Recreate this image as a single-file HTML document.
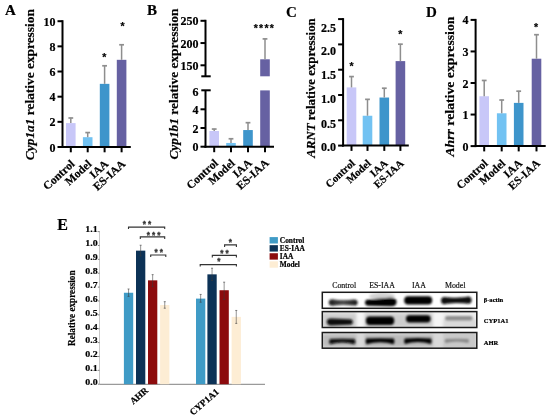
<!DOCTYPE html><html><head><meta charset="utf-8"><style>html,body{margin:0;padding:0;background:#fff;}svg{display:block;}text{font-family:'Liberation Serif','Times New Roman',serif;font-weight:bold;stroke:#000;stroke-width:0.2px}</style></head><body>
<svg width="550" height="416" viewBox="0 0 550 416">
<rect width="550" height="416" fill="#fff"/>
<text x="5.00" y="15.40" font-size="15" text-anchor="start"  style="">A</text>
<rect x="66.00" y="123.10" width="9.60" height="23.90" fill="#c8c7f8"/>
<line x1="70.80" y1="117.69" x2="70.80" y2="123.10" stroke="#8e8e8e" stroke-width="1.5"/>
<line x1="68.40" y1="117.99" x2="73.20" y2="117.99" stroke="#8e8e8e" stroke-width="1.7"/>
<rect x="82.90" y="137.19" width="9.60" height="9.81" fill="#72c2f2"/>
<line x1="87.70" y1="132.28" x2="87.70" y2="137.19" stroke="#8e8e8e" stroke-width="1.5"/>
<line x1="85.30" y1="132.58" x2="90.10" y2="132.58" stroke="#8e8e8e" stroke-width="1.7"/>
<rect x="99.80" y="83.85" width="9.60" height="63.15" fill="#3e95cb"/>
<line x1="104.60" y1="65.48" x2="104.60" y2="83.85" stroke="#8e8e8e" stroke-width="1.5"/>
<line x1="102.20" y1="65.78" x2="107.00" y2="65.78" stroke="#8e8e8e" stroke-width="1.7"/>
<rect x="116.80" y="59.82" width="9.60" height="87.18" fill="#6661a2"/>
<line x1="121.60" y1="44.47" x2="121.60" y2="59.82" stroke="#8e8e8e" stroke-width="1.5"/>
<line x1="119.20" y1="44.77" x2="124.00" y2="44.77" stroke="#8e8e8e" stroke-width="1.7"/>
<line x1="62.50" y1="20.20" x2="62.50" y2="148.00" stroke="#000" stroke-width="2"/>
<line x1="57.50" y1="147.00" x2="62.50" y2="147.00" stroke="#000" stroke-width="2"/>
<line x1="57.50" y1="121.84" x2="62.50" y2="121.84" stroke="#000" stroke-width="2"/>
<line x1="57.50" y1="96.68" x2="62.50" y2="96.68" stroke="#000" stroke-width="2"/>
<line x1="57.50" y1="71.52" x2="62.50" y2="71.52" stroke="#000" stroke-width="2"/>
<line x1="57.50" y1="46.36" x2="62.50" y2="46.36" stroke="#000" stroke-width="2"/>
<line x1="57.50" y1="21.20" x2="62.50" y2="21.20" stroke="#000" stroke-width="2"/>
<text x="55.50" y="151.50" font-size="12" text-anchor="end"  style="">0</text>
<text x="55.50" y="126.34" font-size="12" text-anchor="end"  style="">2</text>
<text x="55.50" y="101.18" font-size="12" text-anchor="end"  style="">4</text>
<text x="55.50" y="76.02" font-size="12" text-anchor="end"  style="">6</text>
<text x="55.50" y="50.86" font-size="12" text-anchor="end"  style="">8</text>
<text x="55.50" y="25.70" font-size="12" text-anchor="end"  style="">10</text>
<line x1="61.50" y1="147.00" x2="130.80" y2="147.00" stroke="#000" stroke-width="2"/>
<line x1="70.80" y1="147.00" x2="70.80" y2="152.30" stroke="#000" stroke-width="2"/>
<line x1="87.70" y1="147.00" x2="87.70" y2="152.30" stroke="#000" stroke-width="2"/>
<line x1="104.60" y1="147.00" x2="104.60" y2="152.30" stroke="#000" stroke-width="2"/>
<line x1="121.60" y1="147.00" x2="121.60" y2="152.30" stroke="#000" stroke-width="2"/>
<text x="104.20" y="60.80" font-size="10.5" text-anchor="middle"  style="font-family:'Liberation Sans',sans-serif;font-weight:bold">*</text>
<text x="122.50" y="29.50" font-size="10.5" text-anchor="middle"  style="font-family:'Liberation Sans',sans-serif;font-weight:bold">*</text>
<text x="0" y="0" font-size="13.3" text-anchor="middle" textLength="151" lengthAdjust="spacingAndGlyphs" transform="translate(34.30,84.65) rotate(-90)"><tspan font-style="italic">Cyp1a1</tspan> relative expression</text>
<text x="0" y="0" font-size="11.5" text-anchor="end" transform="translate(75.40,164.80) rotate(-42.5)">Control</text>
<text x="0" y="0" font-size="11.5" text-anchor="end" transform="translate(92.30,164.80) rotate(-42.5)">Model</text>
<text x="0" y="0" font-size="11.5" text-anchor="end" transform="translate(109.20,164.80) rotate(-42.5)">IAA</text>
<text x="0" y="0" font-size="11.5" text-anchor="end" transform="translate(126.20,164.80) rotate(-42.5)">ES-IAA</text>
<text x="147.00" y="15.20" font-size="15" text-anchor="start"  style="">B</text>
<rect x="209.40" y="130.99" width="9.60" height="15.71" fill="#c8c7f8"/>
<line x1="214.20" y1="128.75" x2="214.20" y2="130.99" stroke="#8e8e8e" stroke-width="1.5"/>
<line x1="211.80" y1="129.05" x2="216.60" y2="129.05" stroke="#8e8e8e" stroke-width="1.7"/>
<rect x="226.20" y="142.96" width="9.60" height="3.74" fill="#72c2f2"/>
<line x1="231.00" y1="138.47" x2="231.00" y2="142.96" stroke="#8e8e8e" stroke-width="1.5"/>
<line x1="228.60" y1="138.77" x2="233.40" y2="138.77" stroke="#8e8e8e" stroke-width="1.7"/>
<rect x="243.20" y="130.06" width="9.60" height="16.64" fill="#3e95cb"/>
<line x1="248.00" y1="122.39" x2="248.00" y2="130.06" stroke="#8e8e8e" stroke-width="1.5"/>
<line x1="245.60" y1="122.69" x2="250.40" y2="122.69" stroke="#8e8e8e" stroke-width="1.7"/>
<rect x="260.20" y="90.40" width="9.60" height="56.30" fill="#6661a2"/>
<rect x="260.20" y="59.29" width="9.60" height="17.01" fill="#6661a2"/>
<line x1="265.00" y1="38.60" x2="265.00" y2="59.29" stroke="#8e8e8e" stroke-width="1.5"/>
<line x1="262.60" y1="38.90" x2="267.40" y2="38.90" stroke="#8e8e8e" stroke-width="1.7"/>
<line x1="205.50" y1="19.80" x2="205.50" y2="76.30" stroke="#000" stroke-width="2"/>
<line x1="205.50" y1="90.30" x2="205.50" y2="147.70" stroke="#000" stroke-width="2"/>
<line x1="200.50" y1="20.80" x2="205.50" y2="20.80" stroke="#000" stroke-width="2"/>
<line x1="200.50" y1="43.05" x2="205.50" y2="43.05" stroke="#000" stroke-width="2"/>
<line x1="200.50" y1="65.30" x2="205.50" y2="65.30" stroke="#000" stroke-width="2"/>
<line x1="201.30" y1="76.30" x2="210.70" y2="76.30" stroke="#000" stroke-width="2"/>
<line x1="201.30" y1="90.30" x2="210.70" y2="90.30" stroke="#000" stroke-width="2"/>
<line x1="200.50" y1="146.70" x2="205.50" y2="146.70" stroke="#000" stroke-width="2"/>
<line x1="200.50" y1="128.00" x2="205.50" y2="128.00" stroke="#000" stroke-width="2"/>
<line x1="200.50" y1="109.30" x2="205.50" y2="109.30" stroke="#000" stroke-width="2"/>
<text x="198.50" y="25.30" font-size="12" text-anchor="end"  style="">250</text>
<text x="198.50" y="47.55" font-size="12" text-anchor="end"  style="">200</text>
<text x="198.50" y="69.80" font-size="12" text-anchor="end"  style="">150</text>
<text x="198.50" y="151.20" font-size="12" text-anchor="end"  style="">0</text>
<text x="198.50" y="132.50" font-size="12" text-anchor="end"  style="">2</text>
<text x="198.50" y="113.80" font-size="12" text-anchor="end"  style="">4</text>
<text x="198.50" y="96.00" font-size="12" text-anchor="end"  style="">6</text>
<line x1="204.50" y1="146.70" x2="274.00" y2="146.70" stroke="#000" stroke-width="2"/>
<line x1="214.20" y1="146.70" x2="214.20" y2="152.20" stroke="#000" stroke-width="2"/>
<line x1="231.00" y1="146.70" x2="231.00" y2="152.20" stroke="#000" stroke-width="2"/>
<line x1="248.00" y1="146.70" x2="248.00" y2="152.20" stroke="#000" stroke-width="2"/>
<line x1="265.00" y1="146.70" x2="265.00" y2="152.20" stroke="#000" stroke-width="2"/>
<text x="264.40" y="32.10" font-size="10.5" text-anchor="middle"  style="letter-spacing:1.3px;font-family:'Liberation Sans',sans-serif;font-weight:bold">****</text>
<text x="0" y="0" font-size="13.3" text-anchor="middle" textLength="151" lengthAdjust="spacingAndGlyphs" transform="translate(177.80,84.10) rotate(-90)"><tspan font-style="italic">Cyp1b1</tspan> relative expression</text>
<text x="0" y="0" font-size="11.5" text-anchor="end" transform="translate(218.80,164.00) rotate(-42.5)">Control</text>
<text x="0" y="0" font-size="11.5" text-anchor="end" transform="translate(235.60,164.00) rotate(-42.5)">Model</text>
<text x="0" y="0" font-size="11.5" text-anchor="end" transform="translate(252.60,164.00) rotate(-42.5)">IAA</text>
<text x="0" y="0" font-size="11.5" text-anchor="end" transform="translate(269.60,164.00) rotate(-42.5)">ES-IAA</text>
<text x="286.00" y="17.30" font-size="15" text-anchor="start"  style="">C</text>
<rect x="346.70" y="87.41" width="9.60" height="58.19" fill="#c8c7f8"/>
<line x1="351.50" y1="76.28" x2="351.50" y2="87.41" stroke="#8e8e8e" stroke-width="1.5"/>
<line x1="349.10" y1="76.58" x2="353.90" y2="76.58" stroke="#8e8e8e" stroke-width="1.7"/>
<rect x="362.70" y="115.75" width="9.60" height="29.85" fill="#72c2f2"/>
<line x1="367.50" y1="99.05" x2="367.50" y2="115.75" stroke="#8e8e8e" stroke-width="1.5"/>
<line x1="365.10" y1="99.35" x2="369.90" y2="99.35" stroke="#8e8e8e" stroke-width="1.7"/>
<rect x="379.50" y="97.53" width="9.60" height="48.07" fill="#3e95cb"/>
<line x1="384.30" y1="87.92" x2="384.30" y2="97.53" stroke="#8e8e8e" stroke-width="1.5"/>
<line x1="381.90" y1="88.22" x2="386.70" y2="88.22" stroke="#8e8e8e" stroke-width="1.7"/>
<rect x="395.60" y="61.10" width="9.60" height="84.50" fill="#6661a2"/>
<line x1="400.40" y1="43.89" x2="400.40" y2="61.10" stroke="#8e8e8e" stroke-width="1.5"/>
<line x1="398.00" y1="44.19" x2="402.80" y2="44.19" stroke="#8e8e8e" stroke-width="1.7"/>
<line x1="343.10" y1="18.10" x2="343.10" y2="146.60" stroke="#000" stroke-width="2"/>
<line x1="338.10" y1="145.60" x2="343.10" y2="145.60" stroke="#000" stroke-width="2"/>
<line x1="338.10" y1="120.30" x2="343.10" y2="120.30" stroke="#000" stroke-width="2"/>
<line x1="338.10" y1="95.00" x2="343.10" y2="95.00" stroke="#000" stroke-width="2"/>
<line x1="338.10" y1="69.70" x2="343.10" y2="69.70" stroke="#000" stroke-width="2"/>
<line x1="338.10" y1="44.40" x2="343.10" y2="44.40" stroke="#000" stroke-width="2"/>
<line x1="338.10" y1="19.10" x2="343.10" y2="19.10" stroke="#000" stroke-width="2"/>
<text x="336.10" y="150.60" font-size="12" text-anchor="end"  style="">0.0</text>
<text x="336.10" y="127.80" font-size="12" text-anchor="end"  style="">0.5</text>
<text x="336.10" y="103.25" font-size="12" text-anchor="end"  style="">1.0</text>
<text x="336.10" y="78.90" font-size="12" text-anchor="end"  style="">1.5</text>
<text x="336.10" y="55.40" font-size="12" text-anchor="end"  style="">2.0</text>
<text x="336.10" y="31.80" font-size="12" text-anchor="end"  style="">2.5</text>
<line x1="342.10" y1="145.60" x2="408.80" y2="145.60" stroke="#000" stroke-width="2"/>
<line x1="351.50" y1="145.60" x2="351.50" y2="150.90" stroke="#000" stroke-width="2"/>
<line x1="367.50" y1="145.60" x2="367.50" y2="150.90" stroke="#000" stroke-width="2"/>
<line x1="384.30" y1="145.60" x2="384.30" y2="150.90" stroke="#000" stroke-width="2"/>
<line x1="400.40" y1="145.60" x2="400.40" y2="150.90" stroke="#000" stroke-width="2"/>
<text x="351.50" y="70.10" font-size="10.5" text-anchor="middle"  style="font-family:'Liberation Sans',sans-serif;font-weight:bold">*</text>
<text x="400.20" y="37.50" font-size="10.5" text-anchor="middle"  style="font-family:'Liberation Sans',sans-serif;font-weight:bold">*</text>
<text x="0" y="0" font-size="12.9" text-anchor="middle" textLength="139.5" lengthAdjust="spacingAndGlyphs" transform="translate(314.80,88.00) rotate(-90)"><tspan font-style="italic">ARNT</tspan> relative expression</text>
<text x="0" y="0" font-size="10.7" text-anchor="end" transform="translate(355.60,164.20) rotate(-42.5)">Control</text>
<text x="0" y="0" font-size="10.7" text-anchor="end" transform="translate(371.60,164.20) rotate(-42.5)">Model</text>
<text x="0" y="0" font-size="10.7" text-anchor="end" transform="translate(388.40,164.20) rotate(-42.5)">IAA</text>
<text x="0" y="0" font-size="10.7" text-anchor="end" transform="translate(404.50,164.20) rotate(-42.5)">ES-IAA</text>
<text x="426.00" y="17.00" font-size="15" text-anchor="start"  style="">D</text>
<rect x="479.40" y="96.25" width="9.60" height="49.85" fill="#c8c7f8"/>
<line x1="484.20" y1="80.16" x2="484.20" y2="96.25" stroke="#8e8e8e" stroke-width="1.5"/>
<line x1="481.80" y1="80.46" x2="486.60" y2="80.46" stroke="#8e8e8e" stroke-width="1.7"/>
<rect x="496.90" y="113.29" width="9.60" height="32.81" fill="#72c2f2"/>
<line x1="501.70" y1="99.72" x2="501.70" y2="113.29" stroke="#8e8e8e" stroke-width="1.5"/>
<line x1="499.30" y1="100.02" x2="504.10" y2="100.02" stroke="#8e8e8e" stroke-width="1.7"/>
<rect x="513.90" y="102.88" width="9.60" height="43.22" fill="#3e95cb"/>
<line x1="518.70" y1="90.89" x2="518.70" y2="102.88" stroke="#8e8e8e" stroke-width="1.5"/>
<line x1="516.30" y1="91.19" x2="521.10" y2="91.19" stroke="#8e8e8e" stroke-width="1.7"/>
<rect x="531.70" y="58.71" width="9.60" height="87.39" fill="#6661a2"/>
<line x1="536.50" y1="34.41" x2="536.50" y2="58.71" stroke="#8e8e8e" stroke-width="1.5"/>
<line x1="534.10" y1="34.71" x2="538.90" y2="34.71" stroke="#8e8e8e" stroke-width="1.7"/>
<line x1="475.60" y1="18.90" x2="475.60" y2="147.10" stroke="#000" stroke-width="2"/>
<line x1="470.60" y1="146.10" x2="475.60" y2="146.10" stroke="#000" stroke-width="2"/>
<line x1="470.60" y1="114.55" x2="475.60" y2="114.55" stroke="#000" stroke-width="2"/>
<line x1="470.60" y1="83.00" x2="475.60" y2="83.00" stroke="#000" stroke-width="2"/>
<line x1="470.60" y1="51.45" x2="475.60" y2="51.45" stroke="#000" stroke-width="2"/>
<line x1="470.60" y1="19.90" x2="475.60" y2="19.90" stroke="#000" stroke-width="2"/>
<text x="468.60" y="150.60" font-size="12" text-anchor="end"  style="">0</text>
<text x="468.60" y="119.05" font-size="12" text-anchor="end"  style="">1</text>
<text x="468.60" y="87.50" font-size="12" text-anchor="end"  style="">2</text>
<text x="468.60" y="55.95" font-size="12" text-anchor="end"  style="">3</text>
<text x="468.60" y="24.40" font-size="12" text-anchor="end"  style="">4</text>
<line x1="474.60" y1="146.10" x2="545.70" y2="146.10" stroke="#000" stroke-width="2"/>
<line x1="484.20" y1="146.10" x2="484.20" y2="151.40" stroke="#000" stroke-width="2"/>
<line x1="501.70" y1="146.10" x2="501.70" y2="151.40" stroke="#000" stroke-width="2"/>
<line x1="518.70" y1="146.10" x2="518.70" y2="151.40" stroke="#000" stroke-width="2"/>
<line x1="536.50" y1="146.10" x2="536.50" y2="151.40" stroke="#000" stroke-width="2"/>
<text x="536.00" y="31.00" font-size="10.5" text-anchor="middle"  style="font-family:'Liberation Sans',sans-serif;font-weight:bold">*</text>
<text x="0" y="0" font-size="13.3" text-anchor="middle" textLength="140" lengthAdjust="spacingAndGlyphs" transform="translate(454.20,86.60) rotate(-90)"><tspan font-style="italic">Ahrr</tspan> relative expression</text>
<text x="0" y="0" font-size="11.4" text-anchor="end" transform="translate(488.60,164.30) rotate(-42.5)">Control</text>
<text x="0" y="0" font-size="11.4" text-anchor="end" transform="translate(506.10,164.30) rotate(-42.5)">Model</text>
<text x="0" y="0" font-size="11.4" text-anchor="end" transform="translate(523.10,164.30) rotate(-42.5)">IAA</text>
<text x="0" y="0" font-size="11.4" text-anchor="end" transform="translate(540.90,164.30) rotate(-42.5)">ES-IAA</text>
<text x="57.30" y="230.20" font-size="16" text-anchor="start"  style="">E</text>
<line x1="99.50" y1="231.00" x2="99.50" y2="384.20" stroke="#c8c8c8" stroke-width="1"/>
<line x1="99.50" y1="384.40" x2="265.00" y2="384.40" stroke="#9a9a9a" stroke-width="1.3"/>
<line x1="97.90" y1="384.20" x2="99.50" y2="384.20" stroke="#777" stroke-width="0.9"/>
<text x="0" y="0" font-size="9" text-anchor="end" transform="translate(97.6,385.25) scale(1.1,1)">0.0</text>
<line x1="97.90" y1="370.33" x2="99.50" y2="370.33" stroke="#777" stroke-width="0.9"/>
<text x="0" y="0" font-size="9" text-anchor="end" transform="translate(97.6,371.33) scale(1.1,1)">0.1</text>
<line x1="97.90" y1="356.46" x2="99.50" y2="356.46" stroke="#777" stroke-width="0.9"/>
<text x="0" y="0" font-size="9" text-anchor="end" transform="translate(97.6,357.41) scale(1.1,1)">0.2</text>
<line x1="97.90" y1="342.59" x2="99.50" y2="342.59" stroke="#777" stroke-width="0.9"/>
<text x="0" y="0" font-size="9" text-anchor="end" transform="translate(97.6,343.49) scale(1.1,1)">0.3</text>
<line x1="97.90" y1="328.72" x2="99.50" y2="328.72" stroke="#777" stroke-width="0.9"/>
<text x="0" y="0" font-size="9" text-anchor="end" transform="translate(97.6,329.57) scale(1.1,1)">0.4</text>
<line x1="97.90" y1="314.85" x2="99.50" y2="314.85" stroke="#777" stroke-width="0.9"/>
<text x="0" y="0" font-size="9" text-anchor="end" transform="translate(97.6,315.65) scale(1.1,1)">0.5</text>
<line x1="97.90" y1="300.98" x2="99.50" y2="300.98" stroke="#777" stroke-width="0.9"/>
<text x="0" y="0" font-size="9" text-anchor="end" transform="translate(97.6,301.73) scale(1.1,1)">0.6</text>
<line x1="97.90" y1="287.11" x2="99.50" y2="287.11" stroke="#777" stroke-width="0.9"/>
<text x="0" y="0" font-size="9" text-anchor="end" transform="translate(97.6,287.81) scale(1.1,1)">0.7</text>
<line x1="97.90" y1="273.24" x2="99.50" y2="273.24" stroke="#777" stroke-width="0.9"/>
<text x="0" y="0" font-size="9" text-anchor="end" transform="translate(97.6,273.89) scale(1.1,1)">0.8</text>
<line x1="97.90" y1="259.37" x2="99.50" y2="259.37" stroke="#777" stroke-width="0.9"/>
<text x="0" y="0" font-size="9" text-anchor="end" transform="translate(97.6,259.97) scale(1.1,1)">0.9</text>
<line x1="97.90" y1="245.50" x2="99.50" y2="245.50" stroke="#777" stroke-width="0.9"/>
<text x="0" y="0" font-size="9" text-anchor="end" transform="translate(97.6,246.05) scale(1.1,1)">1.0</text>
<line x1="97.90" y1="231.63" x2="99.50" y2="231.63" stroke="#777" stroke-width="0.9"/>
<text x="0" y="0" font-size="9" text-anchor="end" transform="translate(97.6,232.13) scale(1.1,1)">1.1</text>
<rect x="123.90" y="292.75" width="9.30" height="91.45" fill="#3f9bc6"/>
<rect x="136.00" y="250.65" width="9.30" height="133.55" fill="#0c3256"/>
<rect x="148.00" y="280.35" width="9.30" height="103.85" fill="#8c0b0d"/>
<rect x="160.10" y="305.02" width="9.30" height="79.18" fill="#fdedd4"/>
<line x1="128.55" y1="288.99" x2="128.55" y2="296.38" stroke="#3a3a3a" stroke-width="0.55"/>
<line x1="127.55" y1="288.99" x2="129.55" y2="288.99" stroke="#3a3a3a" stroke-width="0.6"/>
<line x1="127.55" y1="296.38" x2="129.55" y2="296.38" stroke="#3a3a3a" stroke-width="0.6"/>
<line x1="140.65" y1="245.22" x2="140.65" y2="255.95" stroke="#3a3a3a" stroke-width="0.55"/>
<line x1="139.65" y1="245.22" x2="141.65" y2="245.22" stroke="#3a3a3a" stroke-width="0.6"/>
<line x1="139.65" y1="255.95" x2="141.65" y2="255.95" stroke="#3a3a3a" stroke-width="0.6"/>
<line x1="152.65" y1="274.63" x2="152.65" y2="286.62" stroke="#3a3a3a" stroke-width="0.55"/>
<line x1="151.65" y1="274.63" x2="153.65" y2="274.63" stroke="#3a3a3a" stroke-width="0.6"/>
<line x1="151.65" y1="286.62" x2="153.65" y2="286.62" stroke="#3a3a3a" stroke-width="0.6"/>
<line x1="164.75" y1="301.68" x2="164.75" y2="308.23" stroke="#3a3a3a" stroke-width="0.55"/>
<line x1="163.75" y1="301.68" x2="165.75" y2="301.68" stroke="#3a3a3a" stroke-width="0.6"/>
<line x1="163.75" y1="308.23" x2="165.75" y2="308.23" stroke="#3a3a3a" stroke-width="0.6"/>
<rect x="196.00" y="298.61" width="9.30" height="85.59" fill="#3f9bc6"/>
<rect x="207.40" y="274.35" width="9.30" height="109.85" fill="#0c3256"/>
<rect x="219.50" y="290.24" width="9.30" height="93.96" fill="#8c0b0d"/>
<rect x="231.60" y="316.87" width="9.30" height="67.33" fill="#fdedd4"/>
<line x1="200.65" y1="294.43" x2="200.65" y2="302.23" stroke="#3a3a3a" stroke-width="0.55"/>
<line x1="199.65" y1="294.43" x2="201.65" y2="294.43" stroke="#3a3a3a" stroke-width="0.6"/>
<line x1="199.65" y1="302.23" x2="201.65" y2="302.23" stroke="#3a3a3a" stroke-width="0.6"/>
<line x1="212.05" y1="268.22" x2="212.05" y2="280.49" stroke="#3a3a3a" stroke-width="0.55"/>
<line x1="211.05" y1="268.22" x2="213.05" y2="268.22" stroke="#3a3a3a" stroke-width="0.6"/>
<line x1="211.05" y1="280.49" x2="213.05" y2="280.49" stroke="#3a3a3a" stroke-width="0.6"/>
<line x1="224.15" y1="282.16" x2="224.15" y2="299.58" stroke="#3a3a3a" stroke-width="0.55"/>
<line x1="223.15" y1="282.16" x2="225.15" y2="282.16" stroke="#3a3a3a" stroke-width="0.6"/>
<line x1="223.15" y1="299.58" x2="225.15" y2="299.58" stroke="#3a3a3a" stroke-width="0.6"/>
<line x1="236.25" y1="310.46" x2="236.25" y2="323.42" stroke="#3a3a3a" stroke-width="0.55"/>
<line x1="235.25" y1="310.46" x2="237.25" y2="310.46" stroke="#3a3a3a" stroke-width="0.6"/>
<line x1="235.25" y1="323.42" x2="237.25" y2="323.42" stroke="#3a3a3a" stroke-width="0.6"/>
<path d="M128.50,229.10 L128.50,227.10 L164.70,227.10 L164.70,229.10" fill="none" stroke="#333" stroke-width="1.1"/>
<text x="147.90" y="227.40" font-size="8.2" text-anchor="middle"  style="letter-spacing:2.0px;font-family:'Liberation Sans',sans-serif;font-weight:bold;fill:#333;stroke:#333;stroke-width:0.3">**</text>
<path d="M140.30,238.90 L140.30,236.90 L164.70,236.90 L164.70,238.90" fill="none" stroke="#333" stroke-width="1.1"/>
<text x="154.60" y="237.50" font-size="8.2" text-anchor="middle"  style="letter-spacing:2.0px;font-family:'Liberation Sans',sans-serif;font-weight:bold;fill:#333;stroke:#333;stroke-width:0.3">***</text>
<path d="M150.70,257.00 L150.70,255.00 L165.80,255.00 L165.80,257.00" fill="none" stroke="#333" stroke-width="1.1"/>
<text x="159.70" y="254.80" font-size="8.2" text-anchor="middle"  style="letter-spacing:2.0px;font-family:'Liberation Sans',sans-serif;font-weight:bold;fill:#333;stroke:#333;stroke-width:0.3">**</text>
<path d="M224.60,246.90 L224.60,244.90 L236.40,244.90 L236.40,246.90" fill="none" stroke="#333" stroke-width="1.1"/>
<text x="231.40" y="244.60" font-size="8.2" text-anchor="middle"  style="letter-spacing:2.0px;font-family:'Liberation Sans',sans-serif;font-weight:bold;fill:#333;stroke:#333;stroke-width:0.3">*</text>
<path d="M212.30,257.40 L212.30,255.40 L236.40,255.40 L236.40,257.40" fill="none" stroke="#333" stroke-width="1.1"/>
<text x="225.50" y="255.60" font-size="8.2" text-anchor="middle"  style="letter-spacing:2.0px;font-family:'Liberation Sans',sans-serif;font-weight:bold;fill:#333;stroke:#333;stroke-width:0.3">**</text>
<path d="M200.20,266.60 L200.20,264.60 L236.40,264.60 L236.40,266.60" fill="none" stroke="#333" stroke-width="1.1"/>
<text x="219.90" y="264.30" font-size="8.2" text-anchor="middle"  style="letter-spacing:2.0px;font-family:'Liberation Sans',sans-serif;font-weight:bold;fill:#333;stroke:#333;stroke-width:0.3">*</text>
<text x="0" y="0" font-size="9.8" text-anchor="middle" textLength="75.5" lengthAdjust="spacingAndGlyphs" transform="translate(75.0,308.2) rotate(-90)">Relative expression</text>
<text x="0" y="0" font-size="9.3" text-anchor="end" transform="translate(148.8,391.3) rotate(-41)">AHR</text>
<text x="0" y="0" font-size="9.3" text-anchor="end" transform="translate(219.5,392.8) rotate(-41)">CYP1A1</text>
<rect x="269.60" y="237.10" width="8.30" height="6.40" fill="#3f9bc6"/>
<text x="279.80" y="243.00" font-size="7.4" text-anchor="start"  style="">Control</text>
<rect x="269.60" y="245.17" width="8.30" height="6.40" fill="#0c3256"/>
<text x="279.80" y="251.07" font-size="7.4" text-anchor="start"  style="">ES-IAA</text>
<rect x="269.60" y="253.24" width="8.30" height="6.40" fill="#8c0b0d"/>
<text x="279.80" y="259.14" font-size="7.4" text-anchor="start"  style="">IAA</text>
<rect x="269.60" y="261.31" width="8.30" height="6.40" fill="#fdedd4"/>
<text x="279.80" y="267.21" font-size="7.4" text-anchor="start"  style="">Model</text>
<defs><filter id="bl" x="-30%" y="-80%" width="160%" height="260%"><feGaussianBlur stdDeviation="0.9"/></filter><filter id="bl3" x="-30%" y="-80%" width="160%" height="260%"><feGaussianBlur stdDeviation="1.8"/></filter><linearGradient id="gc" x1="0" x2="1" y1="0" y2="0"><stop offset="0" stop-color="#1a1a1a"/><stop offset="0.18" stop-color="#2e2e2e"/><stop offset="0.5" stop-color="#505050"/><stop offset="0.8" stop-color="#2e2e2e"/><stop offset="1" stop-color="#151515"/></linearGradient></defs>
<text x="344.20" y="287.60" font-size="7.9" text-anchor="middle"  style="font-weight:normal;stroke:#222;stroke-width:0.15">Control</text>
<text x="382.10" y="287.60" font-size="7.9" text-anchor="middle"  style="font-weight:normal;stroke:#222;stroke-width:0.15">ES-IAA</text>
<text x="419.00" y="287.60" font-size="7.9" text-anchor="middle"  style="font-weight:normal;stroke:#222;stroke-width:0.15">IAA</text>
<text x="455.20" y="287.60" font-size="7.9" text-anchor="middle"  style="font-weight:normal;stroke:#222;stroke-width:0.15">Model</text>
<clipPath id="c2"><rect x="322.3" y="311.6" width="154.5" height="15.899999999999977"/></clipPath>
<clipPath id="c3"><rect x="322.3" y="332.5" width="154.5" height="15.699999999999989"/></clipPath>
<g clip-path="url(#c2)"><g filter="url(#bl3)">
<rect x="322.30" y="311.60" width="154.50" height="15.90" fill="#cdcdcd"/>
<rect x="322.30" y="309.60" width="154.50" height="4.50" fill="#e2e2e2"/>
<rect x="356.50" y="311.60" width="8.00" height="18.00" fill="#f6f6f6"/>
<rect x="433.00" y="311.60" width="10.00" height="18.00" fill="#f4f4f4"/>
<rect x="443.00" y="311.60" width="34.00" height="8.00" fill="#ececec"/>
<rect x="443.00" y="319.60" width="34.00" height="9.00" fill="#dadada"/>
</g></g>
<g clip-path="url(#c3)"><g filter="url(#bl3)">
<rect x="322.30" y="332.50" width="154.50" height="15.70" fill="#bababa"/>
<rect x="322.30" y="330.50" width="154.50" height="4.20" fill="#d6d6d6"/>
<rect x="322.30" y="346.00" width="154.50" height="4.00" fill="#d0d0d0"/>
<rect x="356.50" y="332.50" width="8.00" height="18.00" fill="#d9d9d9"/>
<rect x="433.00" y="332.50" width="10.00" height="18.00" fill="#d9d9d9"/>
<rect x="443.00" y="332.50" width="34.00" height="18.00" fill="#c9c9c9"/>
</g></g>
<g filter="url(#bl)">
<ellipse cx="382" cy="296.2" rx="13" ry="3.2" fill="#d2d2d2"/>
<path d="M328.8,302.4 Q328.8,299.2 332.5,299.2 Q338,300.1 343,300.1 Q349,300.1 354,299.4 Q357.6,299.4 357.6,302.4 Q357.6,305.6 354,305.6 Q349,304.9 343,304.9 Q338,304.9 332.5,305.7 Q328.8,305.7 328.8,302.4 Z" fill="url(#gc)"/>
<path d="M365,302.8 Q365,299.6 368.5,299.6 L389,297.8 Q396.6,297.2 396.6,301.8 Q396.6,306.4 391,306.3 L368.5,305.8 Q365,305.8 365,302.8 Z" fill="#050505"/>
<rect x="404.2" y="296.2" width="28" height="8.2" rx="3.9" fill="#040404"/>
<path d="M441,300.6 Q441,296.9 444.5,296.9 Q448,297.6 456,297.7 Q465,297.6 468,296.6 Q471.6,296.6 471.6,300.2 Q471.6,303.8 468,303.8 Q465,303.1 456,303.1 Q448,303.3 444.5,304.2 Q441,304.2 441,300.6 Z" fill="#0c0c0c"/>
<path d="M326.8,321.8 Q326.8,318.4 331,318.4 L350,319.3 Q352.8,319.5 352.8,322 Q352.8,324.6 350,324.7 L331,325.4 Q326.8,325.4 326.8,321.8 Z" fill="#0a0a0a"/>
<rect x="366" y="316.5" width="28.2" height="8.4" rx="3.6" fill="#030303"/>
<rect x="406" y="315.3" width="24.6" height="7.2" rx="3.4" fill="#060606"/>
<rect x="445" y="316.0" width="27.6" height="4.6" rx="2.3" fill="#8e8e8e"/>
<path d="M330.0,339.0 Q342.3,338.6 354.6,339.0 Q356.2,341.6 354.6,344.2 Q342.3,340.6 330.0,344.2 Q328.4,341.6 330.0,339.0 Z" fill="#080808"/>
<path d="M366.3,338.6 Q380.1,338.0 393.8,338.6 Q395.4,341.4 393.8,344.2 Q380.1,340.4 366.3,344.2 Q364.7,341.4 366.3,338.6 Z" fill="#040404"/>
<path d="M404.8,338.4 Q417.9,337.4 431.0,338.4 Q432.6,341.2 431.0,344.0 Q417.9,339.8 404.8,344.0 Q403.2,341.2 404.8,338.4 Z" fill="#030303"/>
<path d="M445.5,339.1 Q456.9,338.5 468.2,339.1 Q469.8,341.0 468.2,342.9 Q456.9,339.9 445.5,342.9 Q443.9,341.0 445.5,339.1 Z" fill="#888888"/>
</g>
<rect x="322.30" y="292.30" width="154.50" height="16.00" fill="none" stroke="#1a1a1a" stroke-width="1.5"/>
<rect x="322.30" y="311.60" width="154.50" height="15.90" fill="none" stroke="#1a1a1a" stroke-width="1.5"/>
<rect x="322.30" y="332.50" width="154.50" height="15.70" fill="none" stroke="#1a1a1a" stroke-width="1.5"/>
<text x="483.70" y="301.60" font-size="6.6" text-anchor="start"  style="">β-actin</text>
<text x="483.70" y="322.60" font-size="6.6" text-anchor="start"  style="">CYP1A1</text>
<text x="483.70" y="344.70" font-size="6.6" text-anchor="start"  style="">AHR</text>
</svg></body></html>
